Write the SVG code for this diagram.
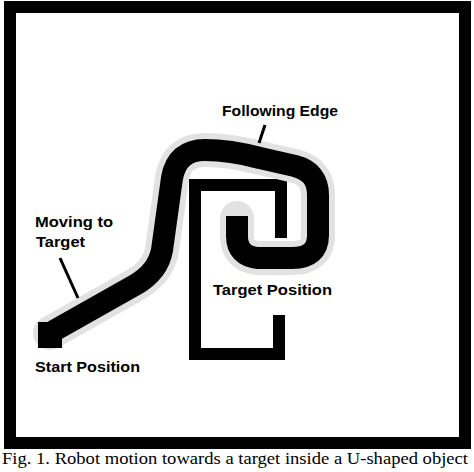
<svg xmlns="http://www.w3.org/2000/svg" width="474" height="472" viewBox="0 0 474 472">
<style>
.lbl{font-family:"Liberation Sans",Arial,sans-serif;font-weight:bold;font-size:15px;fill:#000}
.cap{font-family:"Liberation Serif","Times New Roman",serif;font-size:17px;fill:#000}
.path{fill:none;stroke:#000;stroke-width:22;stroke-linecap:butt;stroke-linejoin:round}
.halo{fill:none;stroke:#e2e2e2;stroke-width:34;stroke-linecap:round;stroke-linejoin:round}
.wall{fill:none;stroke:#000;stroke-width:12;stroke-linejoin:miter;stroke-linecap:butt}
.lead{stroke:#000;stroke-width:3;fill:none}
</style>
<rect x="0" y="0" width="474" height="472" fill="#fff"/>
<g id="frame">
<rect x="10" y="7" width="455" height="436" fill="none" stroke="#000" stroke-width="12"/>
</g>
<g id="u-object">
<polyline class="wall" points="281,238 281,185 195,185 195,354 279,354 279,315"/>
</g>
<g id="connectors">
<path class="halo" d="M 50 333 L 135 285 Q 158 272 162 250 L 172 178 Q 177 150 205 150 Q 230 150 260 158 L 295 166 Q 318 172 318 195 L 318 235 Q 318 258 292 258 L 258 258 Q 237 256 237 236 L 237 218"/>
<path class="path" d="M 50 333 L 135 285 Q 158 272 162 250 L 172 178 Q 177 150 205 150 Q 230 150 260 158 L 295 166 Q 318 172 318 195 L 318 235 Q 318 258 292 258 L 258 258 Q 237 256 237 236 L 237 216"/>
<line class="lead" x1="265" y1="125" x2="259" y2="143"/>
<line class="lead" x1="60" y1="258" x2="78" y2="298"/>
</g>
<g id="start">
<rect x="38" y="322" width="24" height="26" fill="#000"/>
</g>
<g id="labels">
<text class="lbl" x="222" y="116" textLength="116" lengthAdjust="spacingAndGlyphs">Following Edge</text>
<text class="lbl" x="35" y="227" textLength="78" lengthAdjust="spacingAndGlyphs">Moving to</text>
<text class="lbl" x="36" y="247" textLength="49" lengthAdjust="spacingAndGlyphs">Target</text>
<text class="lbl" x="213" y="295" textLength="119" lengthAdjust="spacingAndGlyphs">Target Position</text>
<text class="lbl" x="35" y="372" textLength="105" lengthAdjust="spacingAndGlyphs">Start Position</text>
</g>
<text class="cap" x="2" y="464" textLength="466" lengthAdjust="spacingAndGlyphs">Fig. 1. Robot motion towards a target inside a U-shaped object</text>
</svg>
